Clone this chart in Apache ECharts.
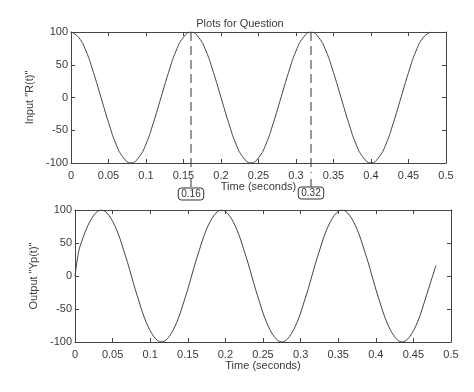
<!DOCTYPE html>
<html>
<head>
<meta charset="utf-8">
<script src="https://cdn.jsdelivr.net/npm/echarts@6/dist/echarts.min.js"></script>
<style>html,body{margin:0;padding:0;background:#fff}#c{width:474px;height:392px}</style>
</head>
<body>
<div id="c"></div>
<script>
// time samples (seconds) for the upper plot
var timeTop = [0,0.01,0.02,0.03,0.04,0.05,0.06,0.07,0.08,0.09,0.10,0.11,0.12,0.13,0.14,0.15,0.16,0.17,0.18,0.19,0.20,0.21,0.22,0.23,0.24,0.25,0.26,0.27,0.28,0.29,0.30,0.31,0.32,0.33,0.34,0.35,0.36,0.37,0.38,0.39,0.40,0.41,0.42,0.43,0.44,0.45,0.46,0.47,0.48];
// Input R(t)
var inputR = [100,92,71,38,0,-38,-71,-92,-100,-92,-71,-38,0,38,71,92,100,92,71,38,0,-38,-71,-92,-100,-92,-71,-38,0,38,71,92,100,92,71,38,0,-38,-71,-92,-100,-92,-71,-38,0,38,71,92,100];
// time samples (seconds) for the lower plot
var timeBottom = [0,0.005,0.01,0.015,0.02,0.025,0.03,0.035,0.04,0.045,0.05,0.055,0.06,0.065,0.07,0.075,0.08,0.085,0.09,0.095,
  0.10,0.105,0.11,0.115,0.12,0.125,0.13,0.135,0.14,0.145,0.15,0.155,0.16,0.165,0.17,0.175,0.18,0.185,0.19,0.195,
  0.20,0.205,0.21,0.215,0.22,0.225,0.23,0.235,0.24,0.245,0.25,0.255,0.26,0.265,0.27,0.275,0.28,0.285,0.29,0.295,
  0.30,0.305,0.31,0.315,0.32,0.325,0.33,0.335,0.34,0.345,0.35,0.355,0.36,0.365,0.37,0.375,0.38,0.385,0.39,0.395,
  0.40,0.405,0.41,0.415,0.42,0.425,0.43,0.435,0.44,0.445,0.45,0.455,0.46,0.465,0.47,0.475,0.48];
// Output Yp(t)
var outputYp = [0,
  38,56,71,83,92,98,100,98,92,83,71,56,38,20,0,-20,-38,-56,-71,-83,-92,-98,-100,-98,-92,-83,-71,-56,-38,-20,0,20,
  38,56,71,83,92,98,100,98,92,83,71,56,38,20,0,-20,-38,-56,-71,-83,-92,-98,-100,-98,-92,-83,-71,-56,-38,-20,0,20,
  38,56,71,83,92,98,100,98,92,83,71,56,38,20,0,-20,-38,-56,-71,-83,-92,-98,-100,-98,-92,-83,-71,-56,-38,-20,-2,16];
var xTicks = {min: 0, max: 0.5, interval: 0.05};
var yTicks = {min: -100, max: 100, interval: 50};
var markTimes = [0.16, 0.32];
var markLabels = ['0.16', '0.32'];

var FONT = 'Liberation Sans, Arial, sans-serif';
var INK = '#3a3a3a';

function pairs(xs, ys){ return xs.map(function(x,i){ return [x, ys[i]]; }); }

function xAx(grid, name, pos, show){
  return {
    type: 'value', gridIndex: grid, position: pos,
    min: xTicks.min, max: xTicks.max, interval: xTicks.interval,
    name: show ? name : '', nameLocation: 'middle', nameGap: 16,
    nameTextStyle: {color: INK, fontSize: 11, fontFamily: FONT},
    axisLine: {show: true, onZero: false, lineStyle: {color: '#444', width: 1}},
    axisTick: {show: true, inside: true, length: 4, lineStyle: {color: '#444'}},
    axisLabel: {show: show, color: INK, fontSize: 11, fontFamily: FONT, margin: 7,
      formatter: function(v){ return String(+v.toFixed(2)); }},
    splitLine: {show: false}
  };
}
function yAx(grid, name, pos, show, gap){
  return {
    type: 'value', gridIndex: grid, position: pos,
    min: yTicks.min, max: yTicks.max, interval: yTicks.interval,
    name: show ? name : '', nameLocation: 'middle', nameGap: gap,
    nameTextStyle: {color: INK, fontSize: 11, fontFamily: FONT},
    axisLine: {show: true, onZero: false, lineStyle: {color: '#444', width: 1}},
    axisTick: {show: true, inside: true, length: 4, lineStyle: {color: '#444'}},
    axisLabel: {show: show, color: INK, fontSize: 11, fontFamily: FONT, margin: 3},
    splitLine: {show: false}
  };
}

var chart = echarts.init(document.getElementById('c'), null, {renderer: 'canvas'});
chart.setOption({
  backgroundColor: '#fff',
  animation: false,
  title: {text: 'Plots for Question', left: 235, top: 13, textAlign: 'center',
    textStyle: {color: INK, fontSize: 11, fontWeight: 'normal', fontFamily: FONT}},
  grid: [
    {left: 71, top: 32, width: 375, height: 131},
    {left: 75, top: 210, width: 376, height: 132}
  ],
  xAxis: [
    xAx(0, 'Time (seconds)', 'bottom', true),
    xAx(0, '', 'top', false),
    xAx(1, 'Time (seconds)', 'bottom', true),
    xAx(1, '', 'top', false)
  ],
  yAxis: [
    yAx(0, 'Input "R(t)"', 'left', true, 25),
    yAx(0, '', 'right', false, 0),
    yAx(1, 'Output "Yp(t)"', 'left', true, 23),
    yAx(1, '', 'right', false, 0)
  ],
  series: [
    {type: 'line', xAxisIndex: 0, yAxisIndex: 0, data: pairs(timeTop, inputR),
      smooth: 0.5, showSymbol: false, lineStyle: {color: '#444', width: 1}},
    {type: 'line', xAxisIndex: 2, yAxisIndex: 2, data: pairs(timeBottom, outputYp),
      smooth: 0.3, showSymbol: false, lineStyle: {color: '#444', width: 1}}
  ]
});

// annotation: dashed markers at peak times, extending below the upper axis to boxed handwritten labels
var g = [];
markTimes.forEach(function(t, i){
  var top = chart.convertToPixel({gridIndex: 0}, [t, 100]);
  var bot = chart.convertToPixel({gridIndex: 0}, [t, -100]);
  g.push({type: 'line', shape: {x1: top[0], y1: top[1], x2: bot[0], y2: bot[1] + 10},
    style: {stroke: '#333', lineWidth: 1, lineDash: [9, 5]}});
  g.push({type: 'line', shape: {x1: bot[0], y1: bot[1] + 16, x2: bot[0], y2: bot[1] + 24},
    style: {stroke: '#333', lineWidth: 1}});
  g.push({type: 'text', x: bot[0], y: bot[1] + 31 - i * 1,
    style: {text: markLabels[i], fill: '#333', fontSize: 10, fontFamily: FONT,
      align: 'center', verticalAlign: 'middle', borderColor: '#333', borderWidth: 1,
      borderRadius: 3, padding: [1, 3]}});
});
chart.setOption({graphic: g});
</script>
</body>
</html>
